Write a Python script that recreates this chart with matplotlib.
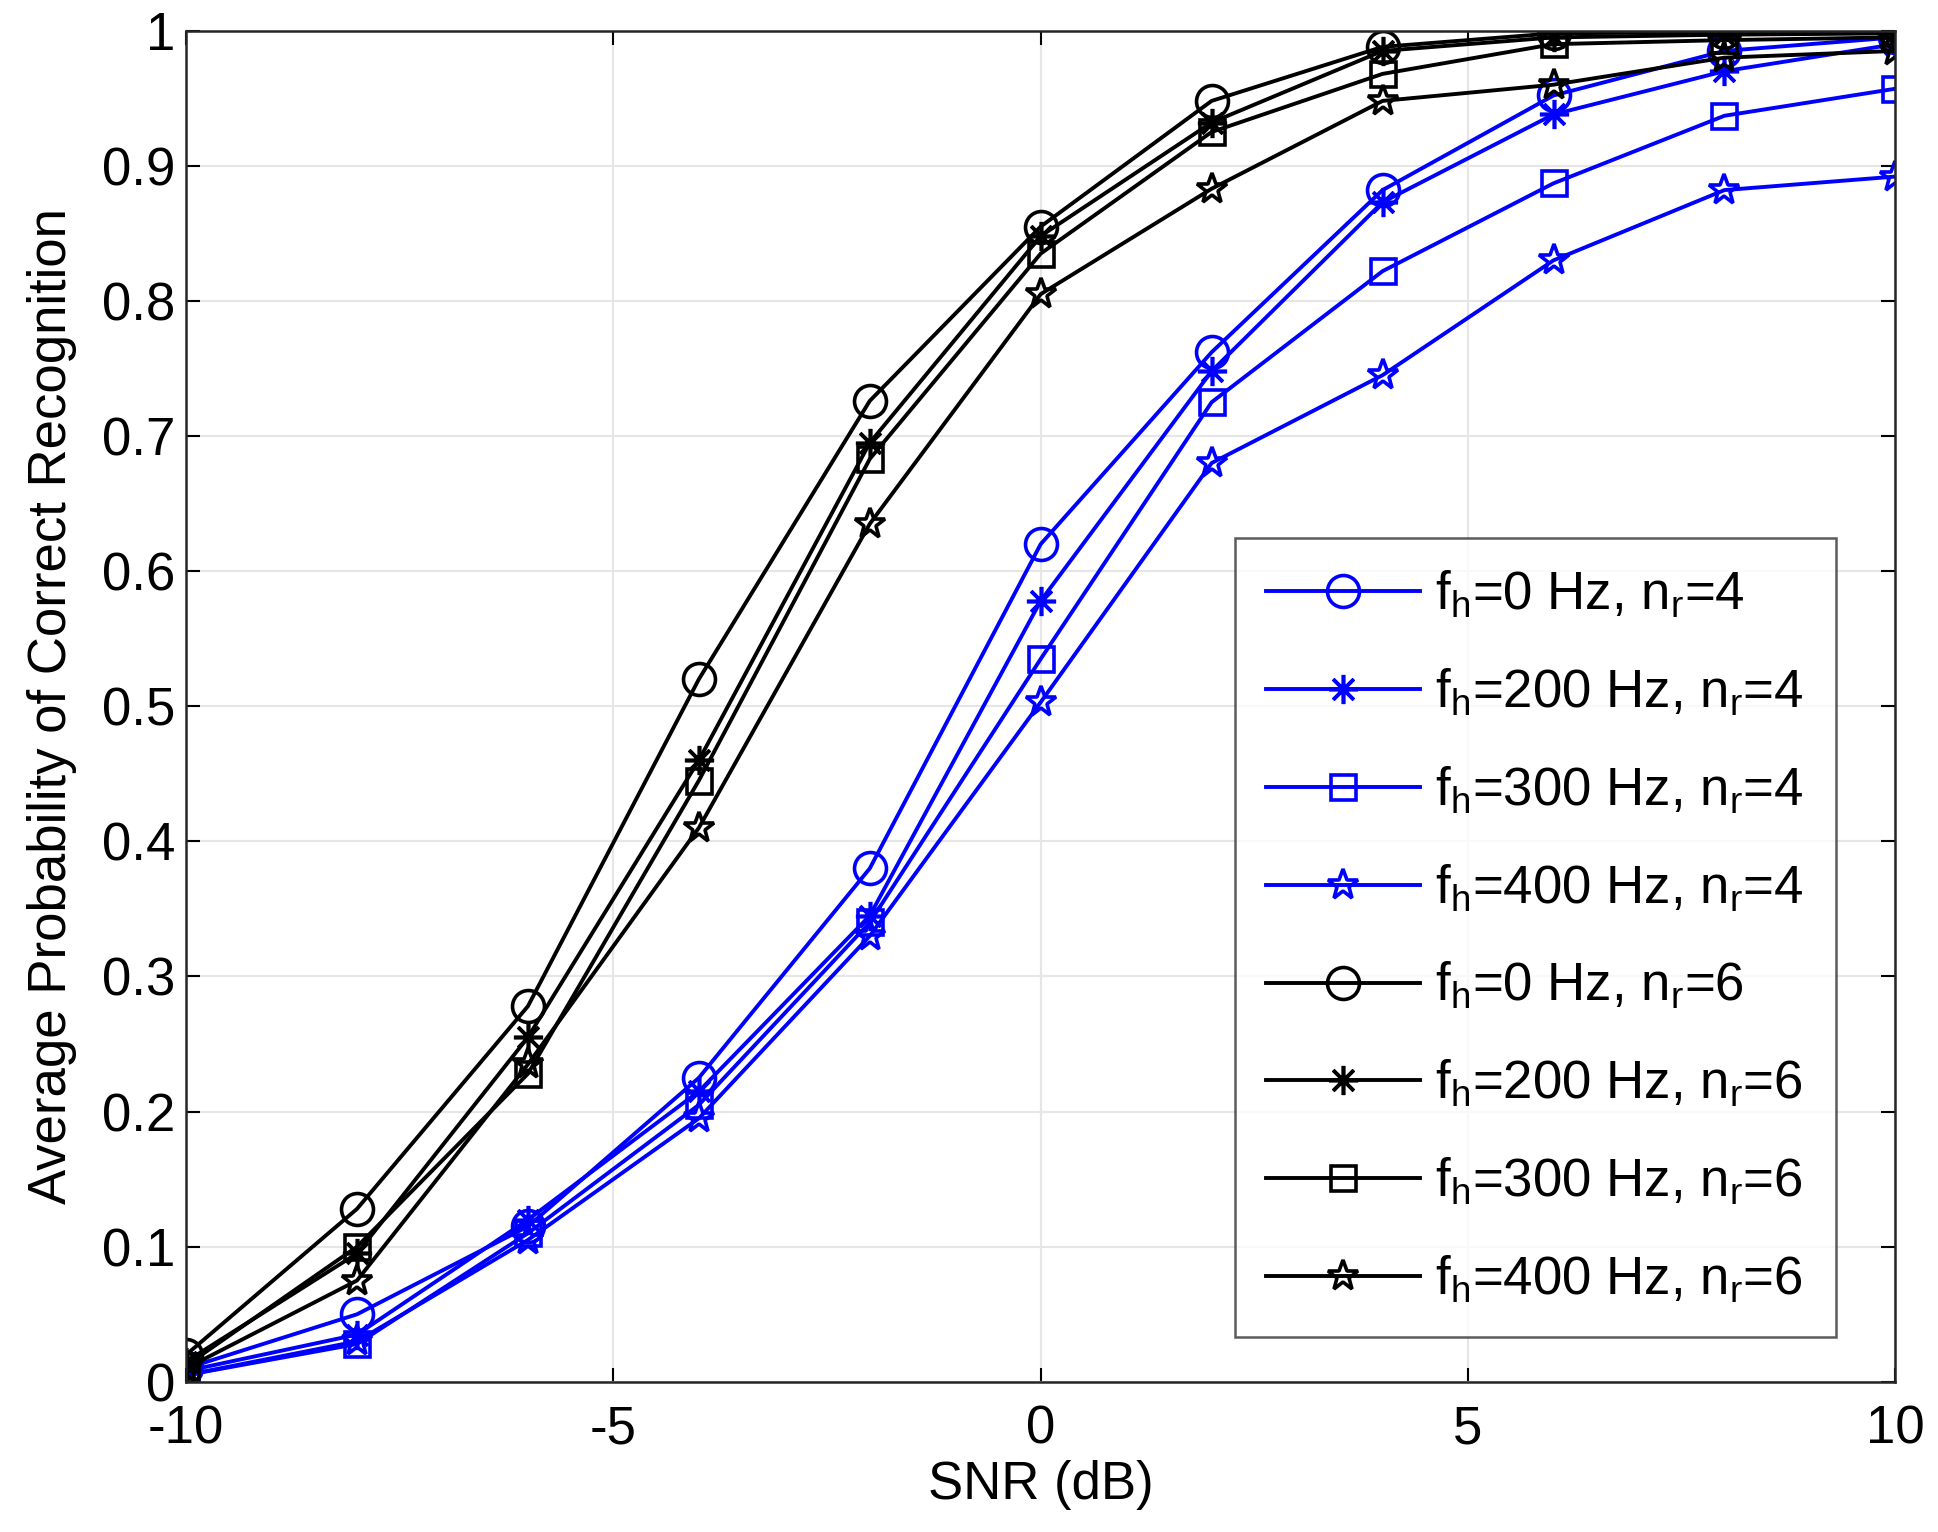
import numpy as np
import matplotlib
matplotlib.use('Agg')
import matplotlib.pyplot as plt

plt.rcParams['font.family'] = ['Liberation Sans', 'DejaVu Sans']
plt.rcParams['mathtext.fontset'] = 'custom'
plt.rcParams['mathtext.rm'] = 'Liberation Sans'
plt.rcParams['mathtext.it'] = 'Liberation Sans'
plt.rcParams['axes.unicode_minus'] = False

# SNR (dB)
snr = [-10, -8, -6, -4, -2, 0, 2, 4, 6, 8, 10]

# n_r = 4 (azul)
p_0_4 = [0.010, 0.050, 0.115, 0.225, 0.380, 0.620, 0.762, 0.882, 0.952, 0.985, 0.995]
p_200_4 = [0.008, 0.035, 0.120, 0.215, 0.345, 0.578, 0.748, 0.873, 0.938, 0.970, 0.990]
p_300_4 = [0.005, 0.028, 0.110, 0.205, 0.340, 0.535, 0.725, 0.822, 0.887, 0.937, 0.957]
p_400_4 = [0.005, 0.030, 0.105, 0.195, 0.330, 0.503, 0.680, 0.745, 0.830, 0.882, 0.892]

# n_r = 6 (negro)
p_0_6 = [0.020, 0.128, 0.278, 0.520, 0.726, 0.855, 0.948, 0.988, 0.998, 0.999, 1.000]
p_200_6 = [0.015, 0.095, 0.255, 0.460, 0.695, 0.848, 0.932, 0.985, 0.995, 0.997, 0.998]
p_300_6 = [0.012, 0.100, 0.228, 0.445, 0.683, 0.835, 0.925, 0.968, 0.990, 0.993, 0.995]
p_400_6 = [0.010, 0.075, 0.235, 0.410, 0.635, 0.805, 0.883, 0.948, 0.960, 0.980, 0.985]

labels = [r'$\mathregular{f_h}$=0 Hz, $\mathregular{n_r}$=4',
          r'$\mathregular{f_h}$=200 Hz, $\mathregular{n_r}$=4',
          r'$\mathregular{f_h}$=300 Hz, $\mathregular{n_r}$=4',
          r'$\mathregular{f_h}$=400 Hz, $\mathregular{n_r}$=4',
          r'$\mathregular{f_h}$=0 Hz, $\mathregular{n_r}$=6',
          r'$\mathregular{f_h}$=200 Hz, $\mathregular{n_r}$=6',
          r'$\mathregular{f_h}$=300 Hz, $\mathregular{n_r}$=6',
          r'$\mathregular{f_h}$=400 Hz, $\mathregular{n_r}$=6']

series = [p_0_4, p_200_4, p_300_4, p_400_4, p_0_6, p_200_6, p_300_6, p_400_6]
colors = ['#0000ff'] * 4 + ['black'] * 4
markers = ['o', (8, 2, 0), 's', '*'] * 2
msizes = [23, 21, 18, 23] * 2

fig = plt.figure(figsize=(19.38, 15.32), dpi=100)
ax = fig.add_axes([0.096, 0.098, 0.882, 0.882])

for y, c, m, ms, lab in zip(series, colors, markers, msizes, labels):
    ax.plot(snr, y, color=c, marker=m, markersize=ms, markerfacecolor='none',
            markeredgecolor=c, markeredgewidth=2.6, linewidth=2.8, label=lab)

ax.set_xlim(-10, 10)
ax.set_ylim(0, 1)
ax.set_xticks([-10, -5, 0, 5, 10])
ax.set_yticks(np.arange(0, 1.01, 0.1))
ax.set_yticklabels(['0', '0.1', '0.2', '0.3', '0.4', '0.5', '0.6', '0.7', '0.8', '0.9', '1'])
ax.grid(True, color='#e6e6e6', linewidth=1.5)
ax.tick_params(direction='in', length=10, width=1.5, labelsize=38, top=True, right=True)
ax.tick_params(axis='x', pad=16)
ax.tick_params(axis='y', pad=8)
for s in ax.spines.values():
    s.set_linewidth(1.8)
    s.set_color('#262626')

ax.set_xlabel('SNR (dB)', fontsize=38, labelpad=4)
ax.set_ylabel('Average Probability of Correct Recognition', fontsize=38, labelpad=18)

leg = ax.legend(loc='lower right', bbox_to_anchor=(0.965, 0.033), borderaxespad=0,
                fontsize=38, frameon=True, fancybox=False, edgecolor='#333333',
                handlelength=2.9, labelspacing=0.88, borderpad=0.6, handletextpad=0.3)
leg.get_frame().set_linewidth(1.8)

fig.savefig('out.png', dpi=100)
